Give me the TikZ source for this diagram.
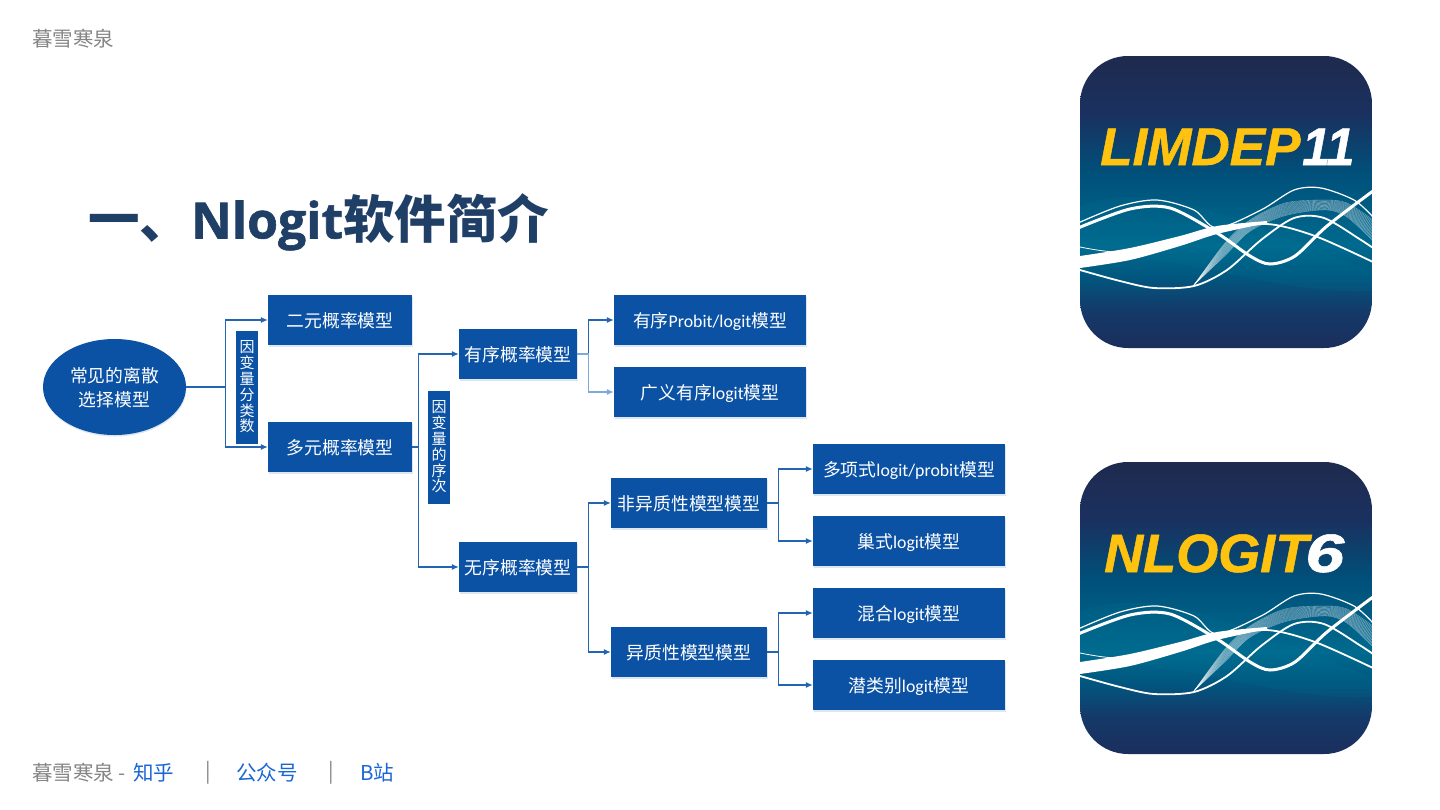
\documentclass[tikz,border=0pt]{standalone}
\usepackage{fontspec}
\setmainfont{Noto Sans CJK SC}
\newfontfamily\latinfont{Carlito}
\newfontfamily\titlelatin[FakeBold=1.2]{Open Sans}
\newfontfamily\logofont[FakeBold=1]{Liberation Sans}
\usetikzlibrary{positioning, shapes.geometric, shadows, arrows.meta}

\definecolor{boxblue}{HTML}{0B52A5}
\definecolor{linkblue}{HTML}{2365B0}
\definecolor{linkpale}{HTML}{7FA9DB}
\definecolor{titleblue}{HTML}{1F3F66}
\definecolor{footblue}{HTML}{1A66D6}
\definecolor{footgray}{HTML}{858585}
\definecolor{logogold}{HTML}{FFC20E}
\definecolor{swoosh}{HTML}{00789A}
\definecolor{bgtop}{HTML}{1F2A4E}
\definecolor{bgupper}{HTML}{1A3160}
\definecolor{bgmid}{HTML}{00507A}
\definecolor{bgteal}{HTML}{006A8E}
\definecolor{bglow}{HTML}{005880}
\definecolor{bgdeep}{HTML}{143A6A}
\definecolor{bgbase}{HTML}{1B2E5C}

\pgfdeclareverticalshading{logobg}{100bp}{
  color(0bp)=(bgbase); color(25bp)=(bgbase); color(31.5bp)=(bgdeep); color(37.5bp)=(bglow);
  color(42.5bp)=(bgteal); color(55bp)=(bgmid); color(65bp)=(bgupper); color(75bp)=(bgtop);
  color(100bp)=(bgtop)}

\tikzset{
  box/.style={rectangle, fill=boxblue, text=white, inner sep=0pt, minimum height=50pt,
    text height=15.4pt, text depth=0pt, font=\fontsize{17.8}{24}\selectfont,
    drop shadow={shadow xshift=.5pt, shadow yshift=-1.5pt, opacity=.4, fill=boxblue!35}},
  tag/.style={rectangle, fill=boxblue, text=white, inner sep=0pt, minimum width=22pt,
    minimum height=113pt, align=center, font=\fontsize{15}{15.8}\selectfont},
  elbow/.style={to path={-- ++(#1,0) |- (\tikztotarget)}},
  foot/.style={anchor=west, inner sep=0pt, font=\fontsize{20.5}{24}\selectfont},
  logoart/.pic={
    \begin{scope}
      \clip[rounded corners=48pt] (0,0) rectangle (292,292);
      \shade[shading=logobg] (0,0) rectangle (292,292);
      \fill[swoosh, opacity=.15] (0,150) .. controls (80,120) and (170,170) .. (292,215)
        -- (292,235) .. controls (190,240) and (90,190) .. (0,205) -- cycle;
      \foreach \d in {0,1,...,14}
        \draw[white, opacity=.55, line width=.35pt] plot[smooth] coordinates
          {(114,229) (145,187+\d*.9) (170,164+\d*.8) (205,147+\d*.9) (245,144+\d*.7) (267,147+\d) (293,164+\d*1.5)};
      \draw[white, line width=3pt] plot[smooth] coordinates
        {(-2,172) (50,153) (90,152) (137,177) (170,200) (190,208) (215,200) (247,170) (293,135)};
      \draw[white, line width=1.2pt] plot[smooth] coordinates
        {(-2,167) (40,150) (77,144) (114,154) (137,172) (181,154) (214,134) (241,132) (274,144) (293,161)};
      \draw[white, line width=1.8pt] plot[smooth] coordinates
        {(137,175) (187,168) (235,180) (293,206)};
      \draw[white, line width=1.8pt] plot[smooth] coordinates
        {(0,214) (40,225) (74,232) (114,230) (147,214) (181,184) (214,162) (244,162) (281,184) (293,192)};
      \draw[white, line width=.8pt] (0,191) .. controls (30,197) and (50,198) .. (70,194);
      \fill[white] plot[smooth] coordinates {(0,200) (50,192) (100,180) (137,170) (187,165)}
        -- plot[smooth] coordinates {(187,167) (137,178) (100,190) (50,204) (0,212)} -- cycle;
    \end{scope}
  }
}

\begin{document}
\begin{tikzpicture}[x=1pt,y=-1pt,on grid,>={Latex[length=7pt,width=6pt]}]
  \useasboundingbox (0,0) rectangle (1440,809);

  \node[foot, text=footgray] (author) at (32,38.5) {暮雪寒泉};
  \node[anchor=west, inner sep=0pt, text=titleblue, font=\fontsize{51.5}{60}\selectfont\bfseries]
    (title) at (88,222) {一、{\titlelatin\fontsize{50}{60}\selectfont Nlogit}软件简介};

  % tree
  \node[ellipse, fill=boxblue, text=white, inner sep=0pt, minimum width=143pt, minimum height=96pt,
    align=center, text depth=0pt, font=\fontsize{17.8}{24}\selectfont,
    drop shadow={shadow xshift=.5pt, shadow yshift=-1.5pt, opacity=.4, fill=boxblue!35}]
    (root) at (114.5,387) {常见的离散\\选择模型};
  \node[box, minimum width=144pt] (binary) at (340,320) {二元概率模型};
  \node[box, minimum width=144pt] (multi) [below=127pt of binary] {多元概率模型};
  \node[tag] (tagcount) at (247,387) {因\\变\\量\\分\\类\\数};
  \node[tag] (tagorder) [right=99pt of multi] {因\\变\\量\\的\\序\\次};
  \node[box, minimum width=118pt] (ordered) [above right=93pt and 178pt of multi] {有序概率模型};
  \node[box, minimum width=118pt] (unordered) [below=213pt of ordered] {无序概率模型};
  \node[box, minimum width=192pt] (probit) [above right=34pt and 192pt of ordered] {有序{\latinfont Probit/logit}模型};
  \node[box, minimum width=192pt] (general) [below=72pt of probit] {广义有序{\latinfont logit}模型};
  \node[box, minimum width=156pt] (nonhet) [above right=64pt and 171pt of unordered] {非异质性模型模型};
  \node[box, minimum width=156pt] (het) [below=149pt of nonhet] {异质性模型模型};
  \node[box, minimum width=192pt] (mnl) [above right=34pt and 220pt of nonhet] {多项式{\latinfont logit/probit}模型};
  \node[box, minimum width=192pt] (nested) [below=72pt of mnl] {巢式{\latinfont logit}模型};
  \node[box, minimum width=192pt] (mixed) [above right=39pt and 220pt of het] {混合{\latinfont logit}模型};
  \node[box, minimum width=192pt] (latent) [below=72pt of mixed] {潜类别{\latinfont logit}模型};

  \path[->, color=linkblue, line width=1.1pt]
    (root.east) edge [elbow=39] (binary)
                edge [elbow=39] (multi)
    (multi.east) edge [elbow=6] (ordered)
                 edge [elbow=6] (unordered)
    (ordered.east) edge [elbow=11] (probit)
                   edge [elbow=11, color=linkpale] (general)
    (unordered.east) edge [elbow=11] (nonhet)
                     edge [elbow=11] (het)
    (nonhet.east) edge [elbow=11] (mnl)
                  edge [elbow=11] (nested)
    (het.east) edge [elbow=11] (mixed)
               edge [elbow=11] (latent);

  % logos
  \pic (limart) at (1080,56) {logoart};
  \pic (nloart) at (1080,462) {logoart};
  \node[anchor=base west, inner sep=0pt, text=logogold, font=\logofont\fontsize{53}{60}\selectfont\bfseries\itshape]
    (limdep) at (1100,165) {LIMDEP};
  \node[anchor=base west, inner sep=0pt, text=white, xscale=.95, font=\logofont\fontsize{53}{60}\selectfont\bfseries\itshape]
    (limnum) at (1302,165) {11};
  \node[anchor=base west, inner sep=0pt, text=logogold, font=\logofont\fontsize{54}{60}\selectfont\bfseries\itshape]
    (nlogit) at (1104,572) {NLOGIT};
  \node[anchor=base west, inner sep=0pt, text=white, xscale=1.3, font=\logofont\fontsize{54}{60}\selectfont\bfseries\itshape]
    (nlonum) at (1305,572) {6};

  % footer
  \node[foot, text=footgray] (name) at (32,773) {暮雪寒泉 -};
  \node[foot, text=footblue] (zhihu) at (133,773) {知乎};
  \node[foot, text=footgray] (sepa) at (205,773) {|};
  \node[foot, text=footblue] (gzh) at (236,773) {公众号};
  \node[foot, text=footgray] (sepb) at (328,773) {|};
  \node[foot, text=footblue] (bili) at (360,773) {B站};
\end{tikzpicture}
\end{document}
